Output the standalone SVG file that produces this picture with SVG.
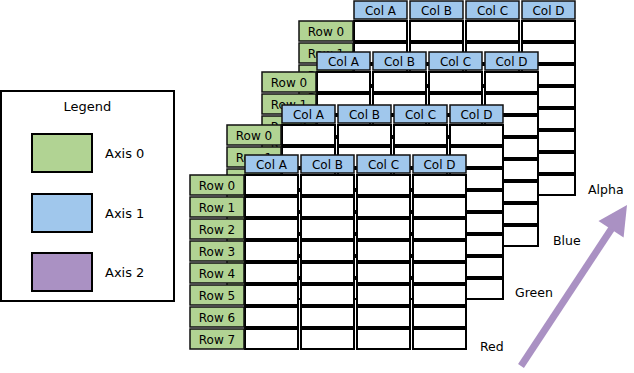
<svg xmlns="http://www.w3.org/2000/svg" xmlns:xlink="http://www.w3.org/1999/xlink" width="634" height="373" viewBox="0 0 634 373">
<style>
text{font-family:"DejaVu Sans","Liberation Sans",sans-serif;fill:#000}
.h{fill:#a0c7ec;stroke:#111;stroke-width:1.5}
.r{fill:#b1d393;stroke:#111;stroke-width:1.5}
.c{fill:#fff;stroke:#000;stroke-width:2}
.t{font-size:12px;text-anchor:middle}
.lab{font-size:12.5px}
.lg{font-size:13px}
</style>
<defs>
<g id="cells">
<rect class="c" x="55" y="20" width="53" height="20"/><rect class="c" x="111" y="20" width="53" height="20"/><rect class="c" x="167" y="20" width="53" height="20"/><rect class="c" x="223" y="20" width="53" height="20"/>
<rect class="c" x="55" y="42" width="53" height="20"/><rect class="c" x="111" y="42" width="53" height="20"/><rect class="c" x="167" y="42" width="53" height="20"/><rect class="c" x="223" y="42" width="53" height="20"/>
<rect class="c" x="55" y="64" width="53" height="20"/><rect class="c" x="111" y="64" width="53" height="20"/><rect class="c" x="167" y="64" width="53" height="20"/><rect class="c" x="223" y="64" width="53" height="20"/>
<rect class="c" x="55" y="86" width="53" height="20"/><rect class="c" x="111" y="86" width="53" height="20"/><rect class="c" x="167" y="86" width="53" height="20"/><rect class="c" x="223" y="86" width="53" height="20"/>
<rect class="c" x="55" y="108" width="53" height="20"/><rect class="c" x="111" y="108" width="53" height="20"/><rect class="c" x="167" y="108" width="53" height="20"/><rect class="c" x="223" y="108" width="53" height="20"/>
<rect class="c" x="55" y="130" width="53" height="20"/><rect class="c" x="111" y="130" width="53" height="20"/><rect class="c" x="167" y="130" width="53" height="20"/><rect class="c" x="223" y="130" width="53" height="20"/>
<rect class="c" x="55" y="152" width="53" height="20"/><rect class="c" x="111" y="152" width="53" height="20"/><rect class="c" x="167" y="152" width="53" height="20"/><rect class="c" x="223" y="152" width="53" height="20"/>
<rect class="c" x="55" y="174" width="53" height="20"/><rect class="c" x="111" y="174" width="53" height="20"/><rect class="c" x="167" y="174" width="53" height="20"/><rect class="c" x="223" y="174" width="53" height="20"/>
</g>
<g id="frame">
<rect class="h" x="55" y="0" width="53" height="18"/><rect class="h" x="111" y="0" width="53" height="18"/><rect class="h" x="167" y="0" width="53" height="18"/><rect class="h" x="223" y="0" width="53" height="18"/>
<rect class="r" x="0" y="20" width="54" height="20"/><rect class="r" x="0" y="42" width="54" height="20"/><rect class="r" x="0" y="64" width="54" height="20"/><rect class="r" x="0" y="86" width="54" height="20"/>
<rect class="r" x="0" y="108" width="54" height="20"/><rect class="r" x="0" y="130" width="54" height="20"/><rect class="r" x="0" y="152" width="54" height="20"/><rect class="r" x="0" y="174" width="54" height="20"/>
</g>
</defs>

<g id="legend">
<rect x="1" y="91" width="173" height="210" fill="#fff" stroke="#000" stroke-width="2"/>
<text class="lg" x="87.5" y="111" text-anchor="middle">Legend</text>
<rect x="32" y="134" width="60" height="38" fill="#b1d393" stroke="#000" stroke-width="2"/>
<text class="lg" x="105" y="158">Axis 0</text>
<rect x="32" y="194" width="60" height="38" fill="#a0c7ec" stroke="#000" stroke-width="2"/>
<text class="lg" x="105" y="218">Axis 1</text>
<rect x="32" y="253" width="60" height="38" fill="#aa91c3" stroke="#000" stroke-width="2"/>
<text class="lg" x="105" y="277">Axis 2</text>
</g>

<g id="layer-alpha" transform="translate(299,1)">
<use xlink:href="#cells"/><use xlink:href="#frame"/>
<text class="t" x="81.5" y="13.5">Col A</text><text class="t" x="137.5" y="13.5">Col B</text><text class="t" x="193.5" y="13.5">Col C</text><text class="t" x="249.5" y="13.5">Col D</text>
<text class="t" x="27" y="34.5">Row 0</text><text class="t" x="27" y="56.5">Row 1</text><text class="t" x="27" y="78.5">Row 2</text><text class="t" x="27" y="100.5">Row 3</text>
<text class="t" x="27" y="122.5">Row 4</text><text class="t" x="27" y="144.5">Row 5</text><text class="t" x="27" y="166.5">Row 6</text><text class="t" x="27" y="188.5">Row 7</text>
</g>
<text class="lab" x="588" y="194">Alpha</text>

<g id="layer-blue" transform="translate(262,52)">
<use xlink:href="#cells"/><use xlink:href="#frame"/>
<text class="t" x="81.5" y="13.5">Col A</text><text class="t" x="137.5" y="13.5">Col B</text><text class="t" x="193.5" y="13.5">Col C</text><text class="t" x="249.5" y="13.5">Col D</text>
<text class="t" x="27" y="34.5">Row 0</text><text class="t" x="27" y="56.5">Row 1</text><text class="t" x="27" y="78.5">Row 2</text><text class="t" x="27" y="100.5">Row 3</text>
<text class="t" x="27" y="122.5">Row 4</text><text class="t" x="27" y="144.5">Row 5</text><text class="t" x="27" y="166.5">Row 6</text><text class="t" x="27" y="188.5">Row 7</text>
</g>
<text class="lab" x="553" y="245">Blue</text>

<g id="layer-green" transform="translate(227,105)">
<use xlink:href="#cells"/><use xlink:href="#frame"/>
<text class="t" x="81.5" y="13.5">Col A</text><text class="t" x="137.5" y="13.5">Col B</text><text class="t" x="193.5" y="13.5">Col C</text><text class="t" x="249.5" y="13.5">Col D</text>
<text class="t" x="27" y="34.5">Row 0</text><text class="t" x="27" y="56.5">Row 1</text><text class="t" x="27" y="78.5">Row 2</text><text class="t" x="27" y="100.5">Row 3</text>
<text class="t" x="27" y="122.5">Row 4</text><text class="t" x="27" y="144.5">Row 5</text><text class="t" x="27" y="166.5">Row 6</text><text class="t" x="27" y="188.5">Row 7</text>
</g>
<text class="lab" x="515" y="297">Green</text>

<g id="layer-red" transform="translate(190,155)">
<use xlink:href="#cells"/><use xlink:href="#frame"/>
<text class="t" x="81.5" y="13.5">Col A</text><text class="t" x="137.5" y="13.5">Col B</text><text class="t" x="193.5" y="13.5">Col C</text><text class="t" x="249.5" y="13.5">Col D</text>
<text class="t" x="27" y="34.5">Row 0</text><text class="t" x="27" y="56.5">Row 1</text><text class="t" x="27" y="78.5">Row 2</text><text class="t" x="27" y="100.5">Row 3</text>
<text class="t" x="27" y="122.5">Row 4</text><text class="t" x="27" y="144.5">Row 5</text><text class="t" x="27" y="166.5">Row 6</text><text class="t" x="27" y="188.5">Row 7</text>
</g>
<text class="lab" x="480" y="351">Red</text>

<g id="connectors">
<line x1="521" y1="366" x2="612" y2="228" stroke="#aa91c3" stroke-width="7"/>
<polygon points="627,205 623.6,237.5 598.5,221.1" fill="#aa91c3"/>
</g>
</svg>
